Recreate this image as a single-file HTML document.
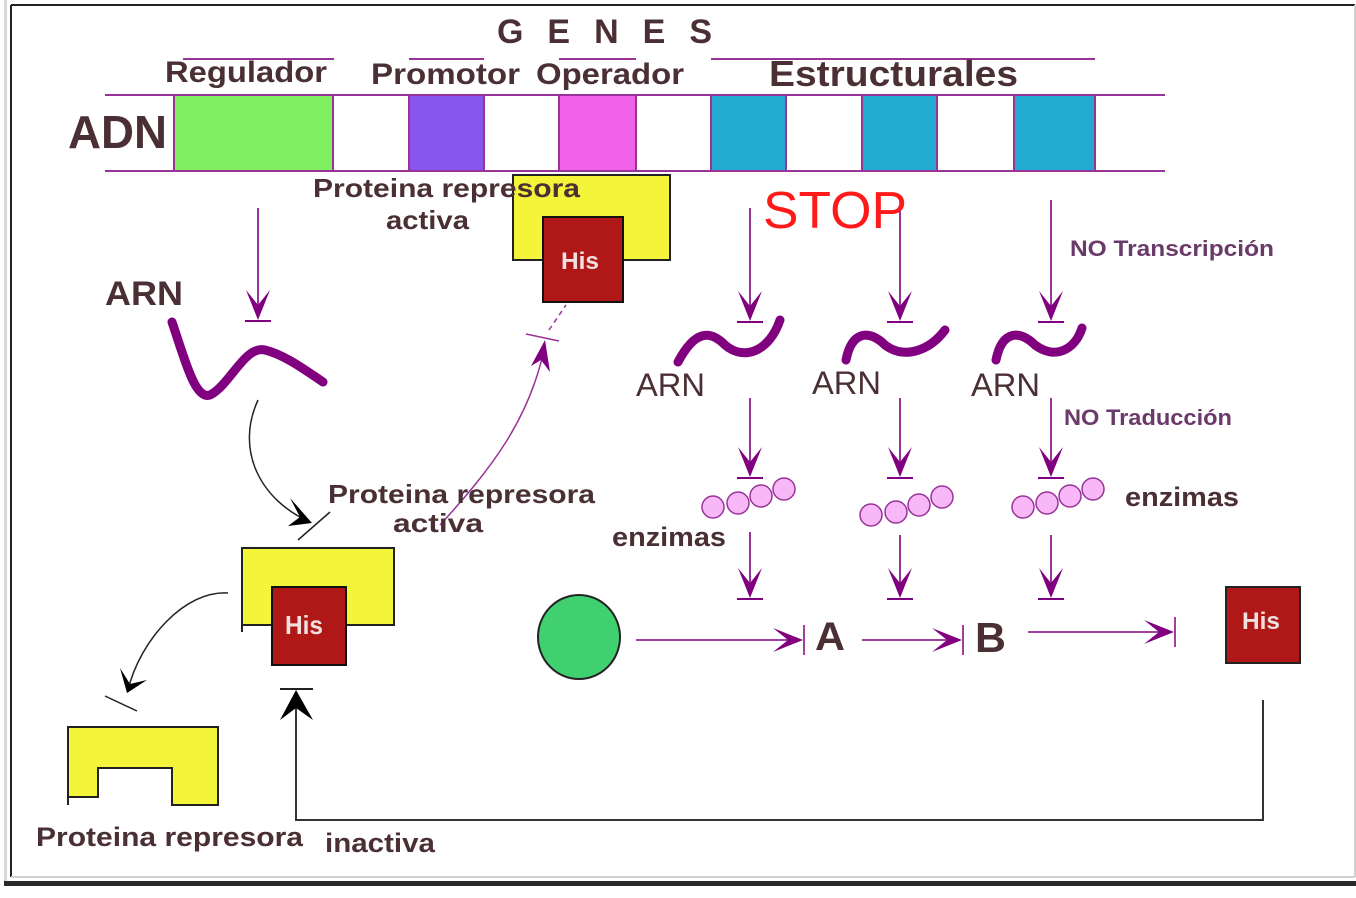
<!DOCTYPE html>
<html><head><meta charset="utf-8"><style>
html,body{margin:0;padding:0;background:#fff;}
svg{display:block;}
text{font-family:"Liberation Sans",sans-serif;font-weight:bold;fill:#4a3034;}
</style></head><body>
<svg width="1356" height="898" viewBox="0 0 1356 898" xmlns="http://www.w3.org/2000/svg">
<defs>
<g id="dn"><polygon points="-12,-30 0,0 12,-30 0,-15" fill="#800080"/><line x1="-13" y1="1" x2="13" y2="1" stroke="#800080" stroke-width="2"/></g>
<g id="rt"><polygon points="-30,-12 0,0 -30,12 -15,0" fill="#800080"/><line x1="1" y1="-15" x2="1" y2="15" stroke="#a040a0" stroke-width="2"/></g>
</defs>
<rect x="4" y="0" width="3" height="886" fill="#d8d8d8"/>
<rect x="4" y="881" width="1352" height="5" fill="#2a2a2a"/>
<line x1="11" y1="5" x2="1355" y2="5" stroke="#222" stroke-width="2"/>
<line x1="11" y1="5" x2="11" y2="877" stroke="#222" stroke-width="2"/>
<line x1="11" y1="877" x2="1355" y2="877" stroke="#d0d0d0" stroke-width="2"/>
<line x1="1355" y1="5" x2="1355" y2="877" stroke="#d0d0d0" stroke-width="2"/>

<text x="497" y="43" font-size="34" textLength="215" lengthAdjust="spacing">GENES</text>
<g stroke="#993399" stroke-width="2">
<line x1="183" y1="59" x2="334" y2="59"/><line x1="409" y1="59" x2="484" y2="59"/>
<line x1="559" y1="59" x2="636" y2="59"/><line x1="711" y1="59" x2="1095" y2="59"/>
</g>
<text x="165" y="82" font-size="30" textLength="162" lengthAdjust="spacingAndGlyphs">Regulador</text>
<text x="371" y="84" font-size="30" textLength="149" lengthAdjust="spacingAndGlyphs">Promotor</text>
<text x="536" y="84" font-size="30" textLength="148" lengthAdjust="spacingAndGlyphs">Operador</text>
<text x="769" y="86" font-size="36" textLength="249" lengthAdjust="spacingAndGlyphs">Estructurales</text>
<text x="68" y="148" font-size="46" textLength="99" lengthAdjust="spacingAndGlyphs">ADN</text>
<g stroke="#993399" stroke-width="2">
<rect x="174" y="95" width="159" height="76" fill="#80f060"/>
<rect x="409" y="95" width="75" height="76" fill="#8855ee"/>
<rect x="559" y="95" width="77" height="76" fill="#f060e8"/>
<rect x="711" y="95" width="75" height="76" fill="#22aad0"/>
<rect x="862" y="95" width="75" height="76" fill="#22aad0"/>
<rect x="1014" y="95" width="81" height="76" fill="#22aad0"/>
<line x1="105" y1="95" x2="1165" y2="95"/><line x1="105" y1="171" x2="1165" y2="171"/>
</g>

<rect x="513" y="175" width="157" height="85" fill="#f4f43a" stroke="#222" stroke-width="2"/>
<line x1="513" y1="175" x2="513" y2="258" stroke="#222" stroke-width="2"/>
<rect x="543" y="217" width="80" height="85" fill="#b01818" stroke="#111" stroke-width="2"/>
<text x="561" y="269" font-size="24" style="fill:#f0e0e0" textLength="38" lengthAdjust="spacingAndGlyphs">His</text>
<text x="313" y="197" font-size="26" textLength="267" lengthAdjust="spacingAndGlyphs">Proteina represora</text>
<text x="386" y="229" font-size="26" textLength="83" lengthAdjust="spacingAndGlyphs">activa</text>

<line x1="258" y1="208" x2="258" y2="318" stroke="#993399" stroke-width="2"/>
<use href="#dn" x="258" y="320"/>
<text x="105" y="305" font-size="34" textLength="78" lengthAdjust="spacingAndGlyphs">ARN</text>
<path d="M172,322 C185,360 195,400 210,395 C230,385 245,345 265,350 C285,355 305,370 323,382" fill="none" stroke="#800080" stroke-width="9" stroke-linecap="round"/>
<path d="M258,400 C235,450 260,500 310,522" fill="none" stroke="#222" stroke-width="1.5"/>
<polygon points="290,498 312,523 288,526 300,517" fill="#000"/>
<line x1="298" y1="540" x2="330" y2="512" stroke="#222" stroke-width="1.5"/>
<path d="M440,525 C490,470 530,420 545,345" fill="none" stroke="#993399" stroke-width="1.5"/>
<polygon points="545,340 531,366 541,360 550,372" fill="#800080"/>
<line x1="526" y1="334" x2="559" y2="341" stroke="#993399" stroke-width="1.5"/>
<line x1="549" y1="330" x2="566" y2="305" stroke="#993399" stroke-width="1.5" stroke-dasharray="5,4"/>
<text x="328" y="503" font-size="26" textLength="267" lengthAdjust="spacingAndGlyphs">Proteina represora</text>
<text x="393" y="532" font-size="26" textLength="90" lengthAdjust="spacingAndGlyphs">activa</text>
<rect x="242" y="548" width="152" height="77" fill="#f4f43a" stroke="#222" stroke-width="2"/>
<line x1="242" y1="548" x2="242" y2="632" stroke="#222" stroke-width="2"/>
<rect x="272" y="587" width="74" height="78" fill="#b01818" stroke="#111" stroke-width="2"/>
<text x="285" y="634" font-size="26" style="fill:#f0e0e0" textLength="38" lengthAdjust="spacingAndGlyphs">His</text>
<path d="M228,593 C185,590 140,640 128,690" fill="none" stroke="#222" stroke-width="1.5"/>
<polygon points="120,668 127,693 147,680 130,684" fill="#000"/>
<line x1="105" y1="696" x2="137" y2="711" stroke="#222" stroke-width="1.5"/>
<polygon points="68,727 218,727 218,805 172,805 172,768 98,768 98,797 68,797" fill="#f4f43a" stroke="#222" stroke-width="2"/>
<line x1="68" y1="727" x2="68" y2="805" stroke="#222" stroke-width="2"/>
<text x="36" y="846" font-size="27" textLength="267" lengthAdjust="spacingAndGlyphs">Proteina represora</text>
<text x="325" y="852" font-size="27" textLength="110" lengthAdjust="spacingAndGlyphs">inactiva</text>
<polyline points="1263,700 1263,820 296,820 296,695" fill="none" stroke="#333" stroke-width="2"/>
<polygon points="296,690 280,720 296,708 313,720" fill="#000"/>
<line x1="280" y1="689" x2="313" y2="689" stroke="#222" stroke-width="2"/>

<text x="763" y="228" font-size="52" style="fill:#ff1a1a;font-weight:normal" textLength="144" lengthAdjust="spacingAndGlyphs">STOP</text>
<text x="1070" y="256" font-size="22" style="fill:#6a3a6a" textLength="204" lengthAdjust="spacingAndGlyphs">NO  Transcripción</text>
<text x="1064" y="425" font-size="22" style="fill:#6a3a6a" textLength="168" lengthAdjust="spacingAndGlyphs">NO Traducción</text>
<g stroke="#993399" stroke-width="2">
<line x1="750" y1="208" x2="750" y2="318"/><line x1="900" y1="210" x2="900" y2="318"/><line x1="1051" y1="200" x2="1051" y2="318"/>
<line x1="750" y1="398" x2="750" y2="475"/><line x1="900" y1="398" x2="900" y2="475"/><line x1="1051" y1="398" x2="1051" y2="475"/>
<line x1="750" y1="532" x2="750" y2="595"/><line x1="900" y1="535" x2="900" y2="595"/><line x1="1051" y1="535" x2="1051" y2="595"/>
</g>
<use href="#dn" x="750" y="321"/><use href="#dn" x="900" y="321"/><use href="#dn" x="1051" y="321"/>
<use href="#dn" x="750" y="477"/><use href="#dn" x="900" y="477"/><use href="#dn" x="1051" y="477"/>
<use href="#dn" x="750" y="598"/><use href="#dn" x="900" y="598"/><use href="#dn" x="1051" y="598"/>
<g fill="none" stroke="#800080" stroke-width="9" stroke-linecap="round">
<path d="M678,362 C695,330 710,330 725,345 C745,362 770,350 780,320"/>
<path d="M846,360 C852,330 870,330 885,345 C905,360 930,350 945,330"/>
<path d="M996,360 C1002,330 1020,330 1035,345 C1055,360 1075,350 1082,328"/>
</g>
<text x="636" y="396" font-size="32" textLength="69" lengthAdjust="spacingAndGlyphs" style="font-weight:normal">ARN</text>
<text x="812" y="394" font-size="32" textLength="69" lengthAdjust="spacingAndGlyphs" style="font-weight:normal">ARN</text>
<text x="971" y="396" font-size="32" textLength="69" lengthAdjust="spacingAndGlyphs" style="font-weight:normal">ARN</text>
<g fill="#f8b8f8" stroke="#993399" stroke-width="1.5">
<circle cx="713" cy="507" r="11"/><circle cx="738" cy="503" r="11"/><circle cx="761" cy="496" r="11"/><circle cx="784" cy="489" r="11"/>
<circle cx="871" cy="515" r="11"/><circle cx="896" cy="512" r="11"/><circle cx="919" cy="505" r="11"/><circle cx="942" cy="497" r="11"/>
<circle cx="1023" cy="507" r="11"/><circle cx="1047" cy="503" r="11"/><circle cx="1070" cy="496" r="11"/><circle cx="1093" cy="489" r="11"/>
</g>
<text x="612" y="546" font-size="27" textLength="114" lengthAdjust="spacingAndGlyphs">enzimas</text>
<text x="1125" y="506" font-size="27" textLength="114" lengthAdjust="spacingAndGlyphs">enzimas</text>
<ellipse cx="579" cy="637" rx="41" ry="42" fill="#40d070" stroke="#222" stroke-width="2"/>
<g stroke="#a040a0" stroke-width="2">
<line x1="636" y1="640" x2="800" y2="640"/><line x1="862" y1="640" x2="955" y2="640"/><line x1="1028" y1="632" x2="1170" y2="632"/>
</g>
<use href="#rt" x="803" y="640"/><use href="#rt" x="962" y="640"/><use href="#rt" x="1174" y="632"/>
<text x="815" y="650" font-size="40" textLength="30" lengthAdjust="spacingAndGlyphs">A</text>
<text x="975" y="652" font-size="42" textLength="31" lengthAdjust="spacingAndGlyphs">B</text>
<rect x="1226" y="587" width="74" height="76" fill="#b01818" stroke="#222" stroke-width="2"/>
<text x="1242" y="629" font-size="24" style="fill:#f0e0e0" textLength="38" lengthAdjust="spacingAndGlyphs">His</text>
</svg>
</body></html>
